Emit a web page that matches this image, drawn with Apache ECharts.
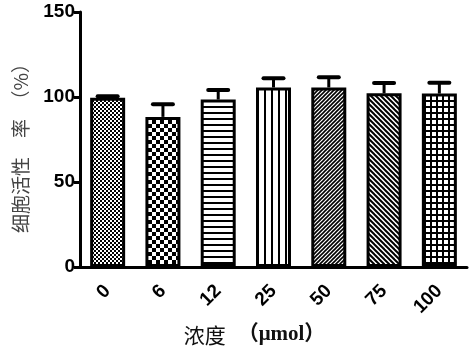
<!DOCTYPE html>
<html>
<head>
<meta charset="utf-8">
<script src="https://cdn.jsdelivr.net/npm/echarts@6/dist/echarts.min.js"></script>
<style>
html, body { margin: 0; padding: 0; background: #fff; }
#chart { width: 474px; height: 351px; }
</style>
</head>
<body>
<div id="chart"></div>
<script>
// 数据
var concentrations = ['0', '6', '12', '25', '50', '75', '100'];
var viability = [99.5, 88.3, 98.5, 105.6, 105.6, 102.2, 102.0];
var sdUpper = [1.0, 7.5, 5.6, 5.4, 6.0, 6.0, 6.4];

// 填充图案 (canvas pattern)
function makePattern(w, h, draw) {
  var c = document.createElement('canvas');
  c.width = w;
  c.height = h;
  var ctx = c.getContext('2d');
  ctx.fillStyle = '#fff';
  ctx.fillRect(0, 0, w, h);
  ctx.fillStyle = '#000';
  ctx.strokeStyle = '#000';
  draw(ctx, w, h);
  return { image: c, repeat: 'repeat' };
}
function diag(ctx, s, lw, back) {
  ctx.lineWidth = lw;
  var segs = back
    ? [[-1, -1, s + 1, s + 1], [-1, s - 1, 1, s + 1], [s - 1, -1, s + 1, 1]]
    : [[-1, s + 1, s + 1, -1], [-1, 1, 1, -1], [s - 1, s + 1, s + 1, s - 1]];
  segs.forEach(function (p) {
    ctx.beginPath();
    ctx.moveTo(p[0], p[1]);
    ctx.lineTo(p[2], p[3]);
    ctx.stroke();
  });
}
var patterns = [
  makePattern(4, 4, function (ctx) { ctx.fillRect(0, 0, 2, 2); ctx.fillRect(2, 2, 2, 2); }),
  makePattern(8, 8, function (ctx) { ctx.fillRect(0, 0, 4, 4); ctx.fillRect(4, 4, 4, 4); }),
  makePattern(6, 6, function (ctx) { ctx.fillRect(0, 4, 6, 2); }),
  makePattern(7, 7, function (ctx) { ctx.fillRect(5, 0, 2, 7); }),
  makePattern(4, 4, function (ctx) { diag(ctx, 4, 1.6, false); }),
  makePattern(5, 5, function (ctx) { diag(ctx, 5, 2, true); }),
  makePattern(6, 6, function (ctx) { ctx.fillRect(0, 4, 6, 2); ctx.fillRect(4, 0, 2, 6); })
];

var myChart = echarts.init(document.getElementById('chart'));
myChart.setOption({
  animation: false,
  grid: { left: 80, right: 7, top: 12, bottom: 84, containLabel: false },
  xAxis: {
    type: 'category',
    data: concentrations,
    name: '{cn|浓度}　{en|（μmol）}',
    nameLocation: 'middle',
    nameGap: 55,
    nameTextStyle: {
      padding: [0, 38, 0, 0],
      rich: {
        cn: { fontSize: 21, color: '#111', fontFamily: 'Noto Sans CJK SC' },
        en: { fontSize: 21, color: '#111', fontWeight: 'bold', fontFamily: 'Liberation Serif, Noto Sans CJK SC' }
      }
    },
    axisLine: { lineStyle: { color: '#000', width: 3 } },
    axisTick: { alignWithLabel: true, length: 7, lineStyle: { color: '#000', width: 3 } },
    axisLabel: {
      rotate: 45,
      margin: 21,
      fontSize: 19,
      fontWeight: 'bold',
      color: '#000',
      fontFamily: 'Liberation Sans'
    }
  },
  yAxis: {
    type: 'value',
    min: 0,
    max: 150,
    interval: 50,
    name: '细胞活性　率　（%）',
    nameLocation: 'middle',
    nameGap: 50,
    nameTextStyle: {
      fontSize: 19,
      color: '#444',
      fontFamily: 'Noto Sans CJK SC',
      padding: [0, 8, 0, 0]
    },
    axisLine: { show: true, lineStyle: { color: '#000', width: 3 } },
    axisTick: { show: true, length: 6, lineStyle: { color: '#000', width: 3 } },
    axisLabel: {
      margin: 5,
      fontSize: 19,
      fontWeight: 'bold',
      color: '#000',
      fontFamily: 'Liberation Sans'
    },
    splitLine: { show: false }
  },
  series: [
    {
      type: 'bar',
      barWidth: 35,
      data: viability.map(function (v, i) {
        return { value: v, itemStyle: { color: patterns[i] } };
      }),
      itemStyle: { borderColor: '#000', borderWidth: 3 }
    },
    {
      type: 'custom',
      z: 3,
      data: viability.map(function (v, i) { return [i, v, sdUpper[i]]; }),
      renderItem: function (params, api) {
        var base = api.coord([api.value(0), api.value(1)]);
        var top = api.coord([api.value(0), api.value(1) + api.value(2)]);
        var half = 10;
        return {
          type: 'group',
          children: [
            { type: 'line', shape: { x1: base[0], y1: base[1], x2: top[0], y2: top[1] },
              style: { stroke: '#000', lineWidth: 3 } },
            { type: 'line', shape: { x1: top[0] - half, y1: top[1], x2: top[0] + half, y2: top[1] },
              style: { stroke: '#000', lineWidth: 4, lineCap: 'round' } }
          ]
        };
      }
    }
  ]
});
</script>
</body>
</html>
